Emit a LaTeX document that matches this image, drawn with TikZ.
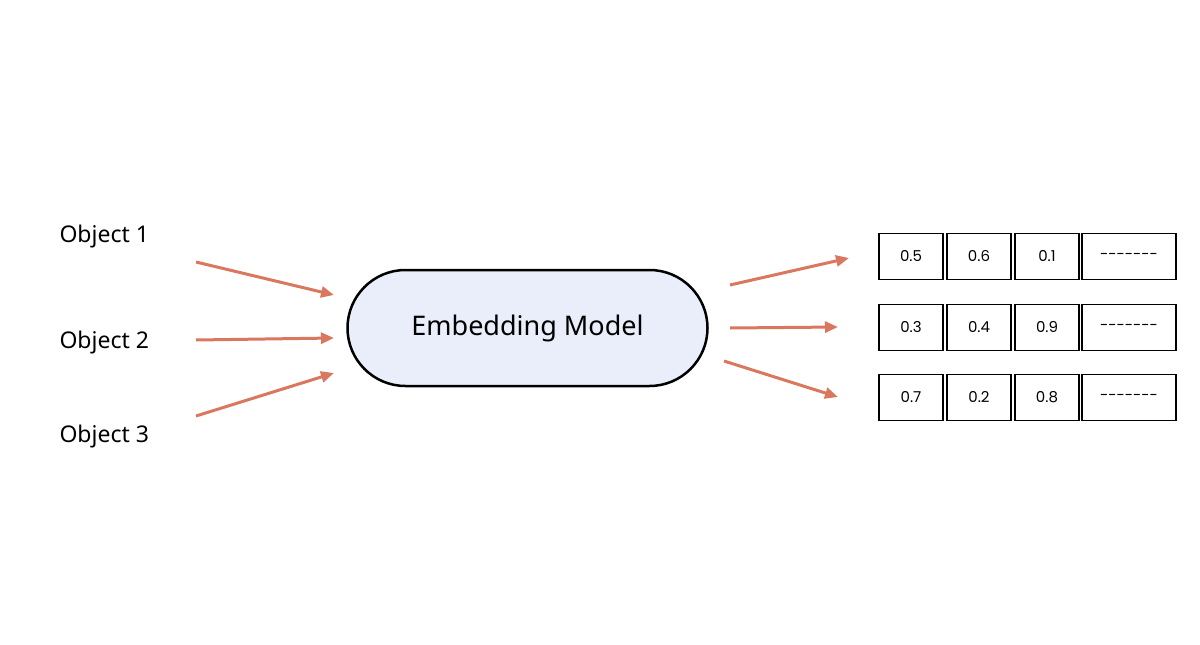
\documentclass[tikz,border=0pt]{standalone}
\usepackage{fontspec}
\setmainfont{Noto Sans}
\newfontfamily\popp{Poppins}
\usetikzlibrary{arrows.meta}
\definecolor{arr}{HTML}{D9775F}
\definecolor{lav}{HTML}{EAEEFA}
\begin{document}
\begin{tikzpicture}[x=1pt,y=-1pt,
  obj/.style={font=\fontsize{23}{23}\selectfont\bfseries, anchor=west},
  cell/.style={draw=black, line width=1.4pt, minimum height=46pt, inner sep=0pt, font=\popp\fontsize{15}{15}\selectfont},
  ar/.style={draw=arr, line width=3pt, -{Triangle[length=13pt,width=11pt]}}]
\useasboundingbox (0,0) rectangle (1200,645);
\node[obj] (o1) at (56,237) {Object 1};
\node[obj] (o2) at (56,343) {Object 2};
\node[obj] (o3) at (56,437) {Object 3};
\node[draw=black, line width=2.5pt, fill=lav, rounded corners=58pt, minimum width=360pt, minimum height=116pt, font=\fontsize{27}{27}\selectfont] (em) at (527.5,328) {Embedding Model};
\coordinate (a1) at (196,262); \coordinate (b1) at (334,295);
\coordinate (a2) at (196,340); \coordinate (b2) at (334,338);
\coordinate (a3) at (196,416); \coordinate (b3) at (334,373);
\coordinate (c1) at (730,285); \coordinate (d1) at (849,258);
\coordinate (c2) at (730,328); \coordinate (d2) at (838,327);
\coordinate (c3) at (724,361); \coordinate (d3) at (838,397);
\foreach \i in {1,2,3}{\draw[ar] (a\i) -- (b\i); \draw[ar] (c\i) -- (d\i);}
\foreach \r/\y/\p/\q/\s in {1/256.5/0.5/0.6/0.1, 2/327.5/0.3/0.4/0.9, 3/397.5/0.7/0.2/0.8}{
  \node[cell, minimum width=64pt] (r\r a) at (911,\y) {\p};
  \node[cell, minimum width=64pt] (r\r b) at (979,\y) {\q};
  \node[cell, minimum width=64pt] (r\r c) at (1047,\y) {\s};
  \node[cell, minimum width=94pt] (r\r d) at (1129,\y) {-------};
}
\end{tikzpicture}
\end{document}
